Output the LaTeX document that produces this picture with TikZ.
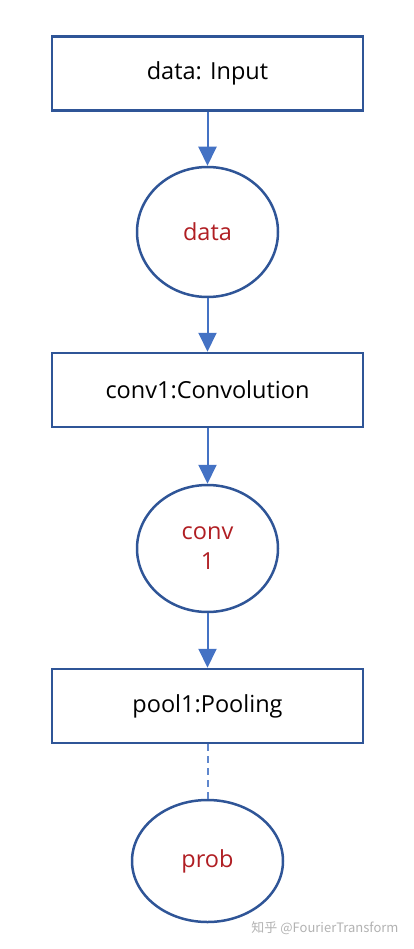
\documentclass[tikz,border=0pt]{standalone}
\usepackage{fontspec}
\setmainfont{Open Sans}
\newfontfamily\cjk{Noto Sans CJK SC}
\usetikzlibrary{arrows.meta,shapes.geometric}
\definecolor{edgeblue}{HTML}{2F5597}
\definecolor{arrblue}{HTML}{4472C4}
\definecolor{txtred}{HTML}{B01E23}
\tikzset{
  layerbox/.style={draw=edgeblue,line width=2.5pt,minimum width=311pt,minimum height=74pt,inner sep=0pt,font=\fontsize{23.5}{28}\selectfont},
  blob/.style={draw=edgeblue,line width=2.5pt,ellipse,inner sep=0pt,text=txtred,font=\fontsize{23.5}{30}\selectfont,align=center},
  flow/.style={draw=arrblue,line width=2pt,-{Triangle[length=19pt,width=18pt]}},
  dflow/.style={draw=arrblue!85!white,line width=2pt,dash pattern=on 7pt off 5pt}
}
\begin{document}
\begin{tikzpicture}[x=1pt,y=1pt]
\useasboundingbox (0,0) rectangle (413,-949);
\node[layerbox] (input) at (207.5,-73.5) {data: Input};
\node[blob,minimum width=141pt,minimum height=130pt] (data) at (207.5,-232) {data};
\node[layerbox] (conv) at (207.5,-390) {conv1:Convolution};
\node[blob,minimum width=141pt,minimum height=127pt] (c1) at (207.5,-548.5) {conv\\1};
\node[layerbox] (pool) at (207.5,-706) {pool1:Pooling};
\node[blob,minimum width=151pt,minimum height=122pt] (prob) at (207.5,-861) {prob};
\draw[flow] (input) -- (data);
\draw[flow] (data) -- (conv);
\draw[flow] (conv) -- (c1);
\draw[flow] (c1) -- (pool);
\draw[dflow] (pool) -- (prob);
\node[text=black!30,font=\cjk\fontsize{13}{15}\selectfont,anchor=east] (wm) at (402,-928) {知乎 @FourierTransform};
\end{tikzpicture}
\end{document}
